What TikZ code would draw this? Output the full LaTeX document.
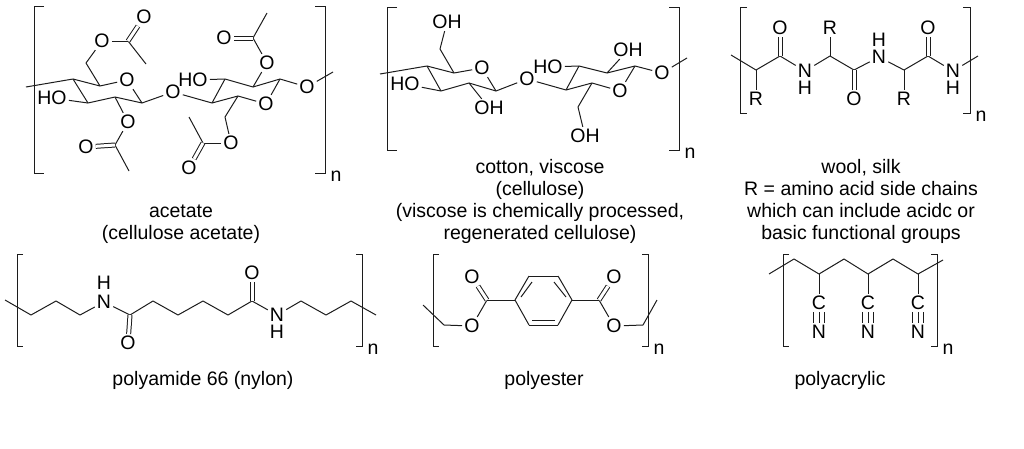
\documentclass[tikz,border=0pt]{standalone}
\usepackage{fontspec}
\setmainfont{Liberation Sans}
\definecolor{inkline}{HTML}{1C1C1C}

\newcommand{\atomfont}{\fontsize{19.5}{22}\selectfont}
\newcommand{\capfont}{\fontsize{19.5}{22.3}\selectfont}

% Brackets of a repeat unit, with the subscript n
\newcommand{\repbrackets}[6]{%
  \draw[bond] (#2+#6,#4) -- (#2,#4) -- (#2,#5) -- (#2+#6,#5);
  \draw[bond] (#3-#6,#4) -- (#3,#4) -- (#3,#5) -- (#3-#6,#5);
  \node[atom] (#1n) at (#3+11,#5+3) {n};
}

\tikzset{
  bond/.style={draw=inkline, line width=1pt},
  dbl/.style={bond, double, double distance=3pt},
  trp/.style={bond, double, double distance=10pt},
  atom/.style={inner sep=2pt, text=black, font=\atomfont},
  caption/.style={inner sep=0pt, text=black, align=center, font=\capfont}
}

\begin{document}
\begin{tikzpicture}[x=1pt, y=-1pt]

  \useasboundingbox (0,0) rectangle (1024,448);

  % Acetate
  \repbrackets{a}{34}{325}{6}{173}{10}
  \foreach \n/\x/\y in {
    a0/26/87, a1/73/79, a2/100/86, a3/142/103, a4/115/97, a5/88/103,
    a6/86/63, a7/128/41, a8/146/64, a9/115/145, a10/129/171,
    b1/212/103, b2/238/96, b3/280/79, b4/253/87, b5/225/79,
    b6/253/38, b7/267/13, b8/225/117, b9/203/143, b10/189/117, bz/333/72}
    \coordinate (\n) at (\x,\y);
  \foreach \n/\x/\y/\t in {
    aO1/127/80/O, aHO/52/98/HO, aO2/102/41/O, aO3/144/17/O, aO4/128/122/O,
    aO5/86/147/O, aOb/173/92/O,
    bO1/266/104/O, bHO/193/80/HO, bO2/267/63/O, bO3/224/38/O,
    bO4/231/143/O, bO5/189/168/O, bO6/307/87/O}
    \node[atom] (\n) at (\x,\y) {\t};
  \foreach \p/\q in {
    a0/a1, a1/a2, a2/aO1, aO1/a3, a3/a4, a4/a5, a5/a1, a5/aHO, a2/a6, a6/aO2,
    aO2/a7, a7/a8, a4/aO4, aO4/a9, a9/a10, a3/aOb, aOb/b1,
    b1/b2, b2/bO1, bO1/b3, b3/b4, b4/b5, b5/b1, b5/bHO, b4/bO2, bO2/b6, b6/b7,
    b2/b8, b8/bO4, bO4/b9, b9/b10, b3/bO6, bO6/bz}
    \draw[bond] (\p) -- (\q);
  \foreach \p/\q in {a7/aO3, a9/aO5, b6/bO3, b9/bO5}
    \draw[dbl] (\p) -- (\q);
  \node[caption] (capAcetate) at (181,224) {acetate\\(cellulose acetate)};

  % Cotton, viscose
  \repbrackets{c}{387}{679}{7}{150}{10}
  \foreach \n/\x/\y in {
    c0/380/74, c1/427/66, c2/454/73, c3/496/91, c4/469/83, c5/441/91, c6/440/49,
    d1/566/90, d2/592/83, d3/635/66, d4/607/73, d5/579/66, d6/578/107, dz/687/58}
    \coordinate (\n) at (\x,\y);
  \foreach \n/\x/\y/\t in {
    cO1/482/68/O, cHO/405/84/HO, cOH1/447/22/OH, cOH2/489/108/OH, cOb/527/79/O,
    dO1/620/91/O, dHO/548/67/HO, dOH1/628/50/OH, dOH2/585/136/OH, dO2/662/73/O}
    \node[atom] (\n) at (\x,\y) {\t};
  \foreach \p/\q in {
    c0/c1, c1/c2, c2/cO1, cO1/c3, c3/c4, c4/c5, c5/c1, c5/cHO, c2/c6, c6/cOH1,
    c4/cOH2, c3/cOb, cOb/d1,
    d1/d2, d2/dO1, dO1/d3, d3/d4, d4/d5, d5/d1, d5/dHO, d4/dOH1, d2/d6, d6/dOH2,
    d3/dO2, dO2/dz}
    \draw[bond] (\p) -- (\q);
  \node[caption] (capCotton) at (540,201.5)
    {cotton, viscose\\(cellulose)\\(viscose is chemically processed,\\regenerated cellulose)};

  % Wool, silk
  \repbrackets{w}{740}{970}{7}{113}{7}
  \foreach \n/\x/\y in {
    w0/731/55, w1/756/70, w2/780/56, w3/830/56, w4/854/70, w5/904/70, w6/928/56, wz/978/56}
    \coordinate (\n) at (\x,\y);
  \foreach \n/\x/\y/\t in {
    wR1/756/99/R, wO1/780/28/O, wN1/805/71/N, wH1/805/88/H, wR2/830/28/R,
    wO2/854/99/O, wN2/879/57/N, wH2/879/40/H, wR3/904/99/R, wO3/928/28/O,
    wN3/953/71/N, wH3/953/88/H}
    \node[atom] (\n) at (\x,\y) {\t};
  \foreach \p/\q in {
    w0/w1, w1/wR1, w1/w2, w2/wN1, wN1/w3, w3/wR2, w3/w4, w4/wN2, wN2/w5, w5/wR3,
    w5/w6, w6/wN3, wN3/wz}
    \draw[bond] (\p) -- (\q);
  \foreach \p/\q in {w2/wO1, w4/wO2, w6/wO3}
    \draw[dbl] (\p) -- (\q);
  \node[caption] (capWool) at (861,201.5)
    {wool, silk\\R = amino acid side chains\\which can include acidc or\\basic functional groups};

  % Polyamide 66
  \repbrackets{p}{17}{362}{254}{346}{6}
  \foreach \n/\x/\y in {
    p0/5/300, p1/31/315, p2/56/301, p3/80/315, p4/130/315, p5/153/301, p6/178/315,
    p7/203/301, p8/228/315, p9/252/301, p10/301/301, p11/326/315, p12/351/301, pz/376/315}
    \coordinate (\n) at (\x,\y);
  \foreach \n/\x/\y/\t in {
    pN1/104/302/N, pH1/104/283/H, pO1/128/343/O, pO2/252/273/O, pN2/277/315/N, pH2/277/332/H}
    \node[atom] (\n) at (\x,\y) {\t};
  \foreach \p/\q in {
    p0/p1, p1/p2, p2/p3, p3/pN1, pN1/p4, p4/p5, p5/p6, p6/p7, p7/p8, p8/p9,
    p9/pN2, pN2/p10, p10/p11, p11/p12, p12/pz}
    \draw[bond] (\p) -- (\q);
  \foreach \p/\q in {p4/pO1, p9/pO2}
    \draw[dbl] (\p) -- (\q);
  \node[caption] (capNylon) at (203,380) {polyamide 66 (nylon)};

  % Polyester
  \repbrackets{e}{433}{648}{254}{346}{6}
  \foreach \n/\x/\y in {
    e0/423/305, e1/444/325, e2/487/300, r1/515/300, r2/529/276, r3/558/276, r4/572/300,
    r5/558/325, r6/529/325, e3/599/300, e4/643/325, ez/657/300,
    i1/521/297, i2/532/282, i3/554/282, i4/566/297, i5/555/320, i6/532/320}
    \coordinate (\n) at (\x,\y);
  \foreach \n/\x/\y/\t in {
    eO1/472/326/O, eO2/472/277/O, eO3/614/277/O, eO4/614/326/O}
    \node[atom] (\n) at (\x,\y) {\t};
  \foreach \p/\q in {
    e0/e1, e1/eO1, eO1/e2, e2/r1, r1/r2, r2/r3, r3/r4, r4/r5, r5/r6, r6/r1,
    r4/e3, e3/eO4, eO4/e4, e4/ez, i1/i2, i3/i4, i5/i6}
    \draw[bond] (\p) -- (\q);
  \foreach \p/\q in {e2/eO2, e3/eO3}
    \draw[dbl] (\p) -- (\q);
  \node[caption] (capEster) at (544,380) {polyester};

  % Polyacrylic
  \repbrackets{y}{783}{937}{254}{346}{6}
  \foreach \n/\x/\y in {
    y0/769/274, y1/794/259, y2/819/274, y3/844/259, y4/868/274, y5/893/259, y6/918/274, yz/943/260}
    \coordinate (\n) at (\x,\y);
  \foreach \n/\x in {1/819, 2/868, 3/918} {
    \node[atom] (yC\n) at (\x,303) {C};
    \node[atom] (yN\n) at (\x,332) {N};
    \draw[trp] (yC\n) -- (yN\n);
    \draw[bond] (yC\n) -- (yN\n);
  }
  \foreach \p/\q in {
    y0/y1, y1/y2, y2/y3, y3/y4, y4/y5, y5/y6, y6/yz, y2/yC1, y4/yC2, y6/yC3}
    \draw[bond] (\p) -- (\q);
  \node[caption] (capAcrylic) at (840,380) {polyacrylic};

\end{tikzpicture}
\end{document}
